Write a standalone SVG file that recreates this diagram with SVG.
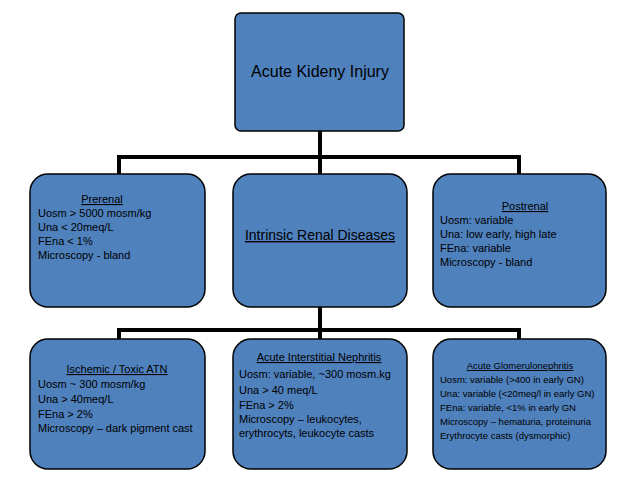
<svg xmlns="http://www.w3.org/2000/svg" width="638" height="479" viewBox="0 0 638 479">
<style>
.b{fill:#4f81bd;stroke:#000;stroke-width:1.5}
text{font-family:"Liberation Sans",Arial,sans-serif;fill:#000}
.t{font-size:11px}
.s{font-size:9.5px}
.u{text-decoration:underline}
.c{stroke:#000;stroke-width:4;fill:none}
</style>
<rect width="638" height="479" fill="#fff"/>
<g id="connectors">
<path class="c" d="M320 131V157M119 157H519M119 155V175M320 157V175M519 155V175"/>
<path class="c" d="M320 307V330M119 330H519M119 328V339M320 330V339M519 328V339"/>
</g>
<g id="aki"><rect class="b" x="235" y="13" width="169" height="118" rx="6"/>
<text x="320" y="77" text-anchor="middle" font-size="16">Acute Kideny Injury</text></g>
<g id="prerenal"><rect class="b" x="30" y="174" width="175" height="133" rx="18"/>
<text class="t u" x="102" y="203" text-anchor="middle">Prerenal</text>
<text class="t" x="38" y="217">Uosm &gt; 5000 mosm/kg</text>
<text class="t" x="38" y="231">Una &lt; 20meq/L</text>
<text class="t" x="38" y="245">FEna &lt; 1%</text>
<text class="t" x="38" y="259">Microscopy - bland</text></g>
<g id="intrinsic"><rect class="b" x="233" y="174" width="174" height="133" rx="18"/>
<text class="u" x="320" y="240" text-anchor="middle" font-size="14">Intrinsic Renal Diseases</text></g>
<g id="postrenal"><rect class="b" x="433" y="174" width="173" height="133" rx="18"/>
<text class="t u" x="525" y="210" text-anchor="middle">Postrenal</text>
<text class="t" x="440" y="224">Uosm: variable</text>
<text class="t" x="440" y="238">Una: low early, high late</text>
<text class="t" x="440" y="252">FEna: variable</text>
<text class="t" x="440" y="266">Microscopy - bland</text></g>
<g id="atn"><rect class="b" x="30" y="339" width="175" height="130" rx="18"/>
<text class="t u" x="117" y="373" text-anchor="middle">Ischemic / Toxic ATN</text>
<text class="t" x="38" y="388">Uosm ~ 300 mosm/kg</text>
<text class="t" x="38" y="403">Una &gt; 40meq/L</text>
<text class="t" x="38" y="418">FEna &gt; 2%</text>
<text class="t" x="38" y="432">Microscopy – dark pigment cast</text></g>
<g id="ain"><rect class="b" x="233" y="339" width="174" height="130" rx="18"/>
<text class="t u" x="319" y="361" text-anchor="middle">Acute Interstitial Nephritis</text>
<text class="t" x="239" y="378">Uosm: variable, ~300 mosm.kg</text>
<text class="t" x="239" y="394">Una &gt; 40 meq/L</text>
<text class="t" x="239" y="409">FEna &gt; 2%</text>
<text class="t" x="239" y="423">Microscopy – leukocytes,</text>
<text class="t" x="239" y="437">erythrocyts, leukocyte casts</text></g>
<g id="agn"><rect class="b" x="433" y="339" width="173" height="130" rx="18"/>
<text class="s u" x="520" y="369" text-anchor="middle">Acute Glomerulonephritis</text>
<text class="s" x="440" y="383">Uosm: variable (&gt;400 in early GN)</text>
<text class="s" x="440" y="397">Una: variable (&lt;20meq/l in early GN)</text>
<text class="s" x="440" y="411">FEna: variable, &lt;1% in early GN</text>
<text class="s" x="440" y="425">Microscopy – hematuria, proteinuria</text>
<text class="s" x="440" y="439">Erythrocyte casts (dysmorphic)</text></g>
</svg>
